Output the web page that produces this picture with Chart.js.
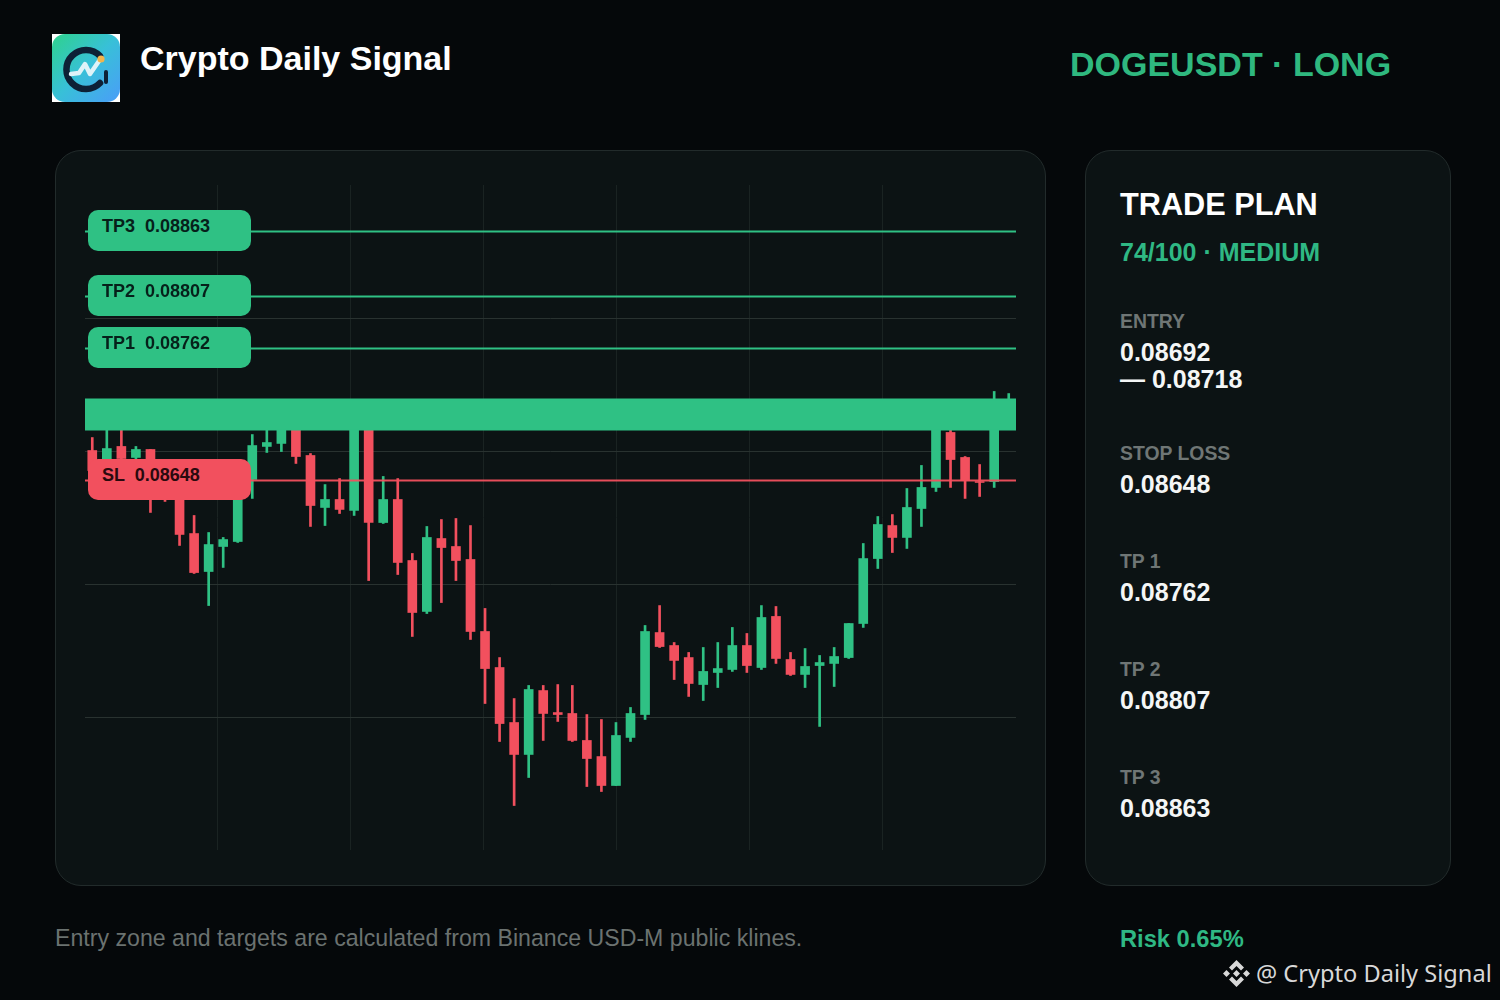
<!DOCTYPE html>
<html><head><meta charset="utf-8">
<script src="https://cdn.jsdelivr.net/npm/chart.js@4"></script>
<style>
html,body{margin:0;padding:0;background:#05080a;width:1500px;height:1000px;overflow:hidden}
body{position:relative;font-family:"Liberation Sans",Arial,sans-serif}
.t{position:absolute;white-space:pre;line-height:1;font-weight:700}
.card{position:absolute;box-sizing:border-box;background:#0c1314;border:1px solid #222b2b;border-radius:26px}
#wrap{position:absolute;left:85px;top:185px;width:931px;height:665px}
.lab{position:absolute;left:88px;width:163px;height:41px;border-radius:10px;color:#06201a;font-weight:700;font-size:18px;line-height:1;white-space:pre;box-sizing:border-box;padding:7px 0 0 14px}
</style></head><body>
<svg style="position:absolute;left:52px;top:34px" width="68" height="68" viewBox="0 0 68 68">
<defs><linearGradient id="g" x1="0" y1="0" x2="1" y2="1"><stop offset="0" stop-color="#2ed28c"/><stop offset=".5" stop-color="#38c0d8"/><stop offset="1" stop-color="#4a9df8"/></linearGradient></defs>
<rect width="68" height="68" fill="#fff"/><rect width="68" height="68" rx="13" fill="url(#g)"/>
<path d="M47 22 A19.5 19.5 0 1 0 47 49" fill="none" stroke="#0d2036" stroke-width="6.5" stroke-linecap="round" transform="translate(1,0)"/>
<path d="M19 40 L27 39 L33 30 L38 40 L47 27" fill="none" stroke="#dff3f8" stroke-width="4.5" stroke-linejoin="round" stroke-linecap="round"/>
<circle cx="49" cy="25" r="3.6" fill="#f3b44c"/><rect x="52" y="36" width="4" height="14" rx="2" fill="#0d2036"/>
</svg>
<div class="t" style="left:140px;top:41px;font-size:34px;color:#fff">Crypto Daily Signal</div>
<div class="t" style="left:1070px;top:47px;font-size:34px;color:#2fb87f">DOGEUSDT · LONG</div>
<div class="card" style="left:55px;top:150px;width:991px;height:736px"></div>
<div class="card" style="left:1085px;top:150px;width:366px;height:736px"></div>
<div id="wrap"><canvas id="c" width="931" height="665"></canvas></div>
<div id="labels"></div>
<div class="t" style="left:1120px;top:190px;font-size:30.7px;color:#fff">TRADE PLAN</div>
<div class="t" style="left:1120px;top:240px;font-size:25px;color:#2fb884">74/100 · MEDIUM</div>
<div id="plan"></div>
<div class="t" style="left:55px;top:927px;font-size:23.15px;font-weight:400;color:#6b7270">Entry zone and targets are calculated from Binance USD-M public klines.</div>
<div class="t" style="left:1120px;top:928px;font-size:23.7px;color:#2fb884">Risk 0.65%</div>
<svg style="position:absolute;left:1222px;top:959px" width="29" height="29" viewBox="0 0 29 29" fill="#d8d8d8">
<path d="M14.5 1 L22 8.5 L19 11.5 L14.5 7 L10 11.5 L7 8.5Z M14.5 28 L7 20.5 L10 17.5 L14.5 22 L19 17.5 L22 20.5Z M1 14.5 L4.5 11 L8 14.5 L4.5 18Z M28 14.5 L24.5 18 L21 14.5 L24.5 11Z M14.5 11 L18 14.5 L14.5 18 L11 14.5Z"/></svg>
<div class="t" style="left:1256px;top:962px;font-size:23.6px;font-weight:400;color:#d8d8d8;font-family:'Noto Sans',sans-serif">@ Crypto Daily Signal</div>
<script>
const opens=[.086739,.086635,.086774,.086679,.086748,.086566,.086394,.086022,.085694,.085910,.085953,.086489,.086774,.086800,.086955,.086696,.086247,.086316,.086221,.087041,.086117,.086316,.085789,.085349,.085979,.085910,.085798,.085176,.084865,.084390,.084114,.084666,.084476,.084468,.084235,.084096,.083846,.084261,.084459,.085167,.085055,.084951,.084718,.084822,.084848,.085055,.084865,.085306,.084934,.084805,.084882,.084900,.084951,.085245,.085806,.086091,.085988,.086238,.086420,.086895,.086679,.086471,.086471,.086998];
const highs=[.086851,.086998,.086955,.086774,.086748,.086610,.086480,.086178,.086031,.085988,.086566,.086877,.086955,.086998,.086998,.086713,.086445,.086497,.087171,.087128,.086515,.086497,.085850,.086083,.086143,.086152,.086091,.085375,.084951,.084597,.084710,.084710,.084718,.084710,.084459,.084416,.084390,.084520,.085228,.085400,.085081,.084995,.085038,.085081,.085211,.085159,.085400,.085392,.084995,.085029,.084969,.085038,.085245,.085936,.086169,.086186,.086411,.086610,.087041,.086955,.086687,.086618,.087249,.087231];
const lows=[.086480,.086566,.086635,.086661,.086204,.086299,.085919,.085677,.085400,.085729,.085945,.086325,.086722,.086730,.086627,.086083,.086091,.086195,.086178,.085616,.086109,.085668,.085133,.085331,.085426,.085616,.085107,.084554,.084226,.083673,.083915,.084235,.084399,.084226,.083837,.083794,.083846,.084226,.084416,.085038,.084761,.084615,.084580,.084692,.084831,.084822,.084848,.084900,.084796,.084692,.084356,.084701,.084943,.085211,.085720,.085858,.085893,.086083,.086385,.086420,.086325,.086342,.086420,.086955];
const closes=[.086566,.086756,.086670,.086748,.086394,.086394,.086014,.085685,.085927,.085970,.086480,.086782,.086808,.086955,.086687,.086264,.086316,.086230,.087085,.086117,.086316,.085772,.085340,.085988,.085901,.085789,.085176,.084856,.084381,.084114,.084675,.084468,.084459,.084235,.084079,.083846,.084278,.084468,.085176,.085046,.084926,.084727,.084831,.084856,.085055,.084882,.085297,.084943,.084805,.084874,.084908,.084960,.085245,.085806,.086100,.085988,.086247,.086420,.086955,.086661,.086480,.086463,.087128,.087171];
const categories=opens.map((_,i)=>String(i+1));
const entryLow=0.08692, entryHigh=0.08718, stopLoss=0.08648, tp1=0.08762, tp2=0.08807, tp3=0.08863;
const yMin=0.0832890, yMax=0.0890319;
const yGridTicks=[0.0844333,0.0855819,0.0867304,0.0878791];
const xSpan=[0.0075,7.0075];
const xGridTicks=[1,2,3,4,5,6];
const labelRows=[["TP3  0.08863",tp3,"#2fc184"],["TP2  0.08807",tp2,"#2fc184"],["TP1  0.08762",tp1,"#2fc184"],["SL  0.08648",stopLoss,"#f2505e"]];
const planRows=[["ENTRY",321,["0.08692","— 0.08718"]],["STOP LOSS",453,["0.08648"]],["TP 1",561,["0.08762"]],["TP 2",669,["0.08807"]],["TP 3",777,["0.08863"]]];
const UP="#2fc184", DOWN="#f2505e";
const colors=opens.map((o,i)=>closes[i]>=o?UP:DOWN);
const level=(v,color,order)=>({type:"line",xAxisID:"x2",order,data:xSpan.map(x=>({x,y:v})),borderColor:color,borderWidth:2,pointRadius:0,fill:false});
const chart=new Chart(document.getElementById("c"),{
 data:{labels:categories,datasets:[
  {type:"bar",order:5,label:"wick",data:highs.map((h,i)=>[lows[i],h]),backgroundColor:colors,barThickness:2,grouped:false},
  {type:"bar",order:4,label:"body",data:opens.map((o,i)=>[Math.min(o,closes[i]),Math.max(o,closes[i])]),backgroundColor:colors,barThickness:9,grouped:false},
  {type:"line",xAxisID:"x2",order:3,label:"entry",data:xSpan.map(x=>({x,y:entryHigh})),borderColor:UP,borderWidth:2,backgroundColor:UP,pointRadius:0,fill:{target:{value:entryLow}}},
  {type:"line",xAxisID:"x2",order:3,data:xSpan.map(x=>({x,y:entryLow})),borderColor:UP,borderWidth:2,pointRadius:0,fill:false},
  level(tp1,UP,2),level(tp2,UP,2),level(tp3,UP,2),
  level(stopLoss,"rgba(242,80,94,.95)",1)
 ]},
 options:{responsive:false,animation:false,events:[],layout:{padding:0},
  plugins:{legend:{display:false},tooltip:{enabled:false}},
  datasets:{bar:{categoryPercentage:1,barPercentage:1}},
  scales:{
   x:{type:"category",display:true,offset:true,grid:{display:false,drawTicks:false},border:{display:false},ticks:{display:false}},
   x2:{type:"linear",position:"top",min:xSpan[0],max:xSpan[1],afterBuildTicks:a=>{a.ticks=xGridTicks.map(value=>({value}))},grid:{drawTicks:false,color:"#1a2322"},border:{display:false},ticks:{display:false}},
   y:{type:"linear",min:yMin,max:yMax,afterBuildTicks:a=>{a.ticks=yGridTicks.map(value=>({value}))},grid:{drawTicks:false,color:"#293230"},border:{display:false},ticks:{display:false}}
  }}
});
const labels=document.getElementById("labels");
labelRows.forEach(([txt,v,bg])=>{const d=document.createElement("div");d.className="lab";d.textContent=txt;d.style.background=bg;d.style.top=Math.round(185+chart.scales.y.getPixelForValue(v)-21.2)+"px";if(bg===DOWN)d.style.color="#2a0a0e";labels.appendChild(d);});
const plan=document.getElementById("plan");
planRows.forEach(([name,y,vals])=>{
 const a=document.createElement("div");a.className="t";a.textContent=name;a.style.cssText+=`left:1120px;top:${y-9}px;font-size:19.4px;color:#6f7675`;plan.appendChild(a);
 vals.forEach((v,i)=>{const b=document.createElement("div");b.className="t";b.textContent=v;b.style.cssText+=`left:1120px;top:${y+19+i*27}px;font-size:25px;color:#f4f6f6`;plan.appendChild(b);});
});
</script>
</body></html>
